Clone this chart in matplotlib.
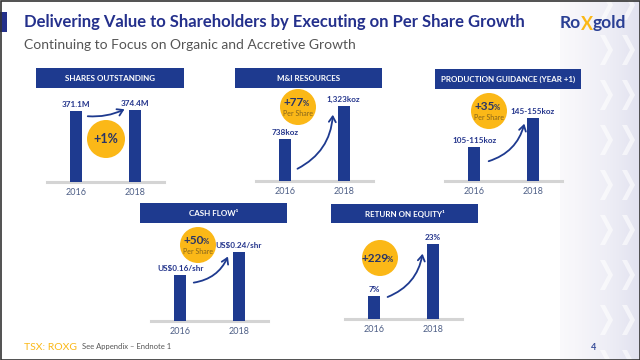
import matplotlib.pyplot as plt
import numpy as np
from matplotlib.patches import Circle, Rectangle, FancyArrowPatch, Polygon

plt.rcParams['font.family'] = ['Lato', 'DejaVu Sans']

NAVY = '#1e3a8f'
GOLD = '#fbb817'
YEAR_C = '#4e5f86'

# data
years = ['2016', '2018']
titles = ['SHARES OUTSTANDING', 'M&I RESOURCES', 'PRODUCTION GUIDANCE (YEAR +1)',
          'CASH FLOW\u00b9', 'RETURN ON EQUITY\u00b9']
shares = [371.1, 374.4]
resources = [738, 1323]
production = [110, 150]          # midpoints of 105-115 / 145-155 koz
cash_flow = [0.16, 0.24]
roe = [7, 23]
value_labels = [['371.1M', '374.4M'],
                ['738koz', '1,323koz'],
                ['105-115koz', '145-155koz'],
                ['US$0.16/shr', 'US$0.24/shr'],
                ['7%', '23%']]
growth = ['+1', '+77', '+35', '+50', '+229']
per_share = [False, True, True, True, False]

# panel layout in pixels
panels = [
    dict(vals=shares, head=(36, 184, 68, 88), base=(47, 164, 182), ylim=(0, 468),
         circ=(106, 139, 19), arrow=((85, 116), (127, 108), 0.15)),
    dict(vals=resources, head=(235, 382, 68, 88), base=(256, 373, 181), ylim=(0, 1588),
         circ=(298, 107, 18), arrow=((295, 170), (333, 112), 0.3)),
    dict(vals=production, head=(435, 581, 69, 89), base=(445, 562, 181), ylim=(63, 187),
         circ=(489, 111, 18), arrow=((486, 162), (525, 121), 0.3)),
    dict(vals=cash_flow, head=(140, 287, 203, 223), base=(151, 268, 321), ylim=(0, 0.313),
         circ=(198, 245, 18), arrow=((191, 283), (229, 254), 0.3)),
    dict(vals=roe, head=(331, 478, 204, 223), base=(345, 462, 319), ylim=(0, 27.6),
         circ=(380, 258, 18), arrow=((385, 298), (423, 251), 0.3)),
]

fig = plt.figure(figsize=(6.4, 3.6), dpi=100)
bg = fig.add_axes([0, 0, 1, 1])
bg.set_xlim(0, 640)
bg.set_ylim(360, 0)
bg.axis('off')

# right-hand decorative gradient with chevrons
grad = np.linspace(0, 1, 100).reshape(1, -1)
bg.imshow(grad, extent=(560, 640, 360, 0), cmap='Purples', vmin=-0.3, vmax=3.5,
          aspect='auto', alpha=0.5, zorder=0)
for yy in range(-10, 360, 45):
    for xx in (600, 622):
        bg.add_patch(Polygon([(xx, yy), (xx + 5, yy), (xx + 13, yy + 15), (xx + 5, yy + 30), (xx, yy + 30), (xx + 8, yy + 15)],
                             closed=True, fc='white', ec='none', alpha=0.6, zorder=0.5))

# frame and title block
bg.add_patch(Rectangle((0.5, 0.5), 639, 359, fill=False, ec='#333333', lw=1.2, zorder=10))
bg.add_patch(Rectangle((0, 12), 7, 20, fc='#23308a', ec='none'))
bg.text(24, 22, 'Delivering Value to Shareholders by Executing on Per Share Growth',
        fontsize=12, fontweight='bold', color='#24308c', va='center')
bg.text(24, 45, 'Continuing to Focus on Organic and Accretive Growth',
        fontsize=10, color='#555555', va='center')
bg.text(560, 23, 'Ro', fontsize=12.5, fontweight='bold', color='#2a3f94', va='center')
bg.text(580.5, 25, 'X', fontsize=13, fontweight='bold', color=GOLD, va='center')
bg.text(592.5, 23, 'gold', fontsize=12.5, fontweight='bold', color='#2a3f94', va='center')

# footer
bg.text(24, 347, 'TSX: ROXG', fontsize=7.5, color=GOLD, va='center')
bg.text(82, 347, 'See Appendix \u2013 Endnote 1', fontsize=5.5, color='#555555', va='center')
bg.text(594, 347, '4', fontsize=6.5, fontweight='bold', color='#3a4f9a', va='center', ha='center')

for i, p in enumerate(panels):
    hx0, hx1, hy0, hy1 = p['head']
    bg.add_patch(Rectangle((hx0, hy0), hx1 - hx0, hy1 - hy0, fc=NAVY, ec='none'))
    bg.text((hx0 + hx1) / 2, (hy0 + hy1) / 2 + 0.5, titles[i], color='white',
            fontsize=5.8, fontweight='bold', ha='center', va='center')

    bx0, bx1, by = p['base']
    ax = fig.add_axes([bx0 / 640, (360 - by) / 360, (bx1 - bx0) / 640, 90 / 360])
    ax.patch.set_alpha(0)
    ax.bar([0, 1], p['vals'], width=0.2, color=NAVY, zorder=3)
    ax.set_xlim(-0.5, 1.5)
    ax.set_ylim(*p['ylim'])
    for s in ('top', 'right', 'left'):
        ax.spines[s].set_visible(False)
    ax.spines['bottom'].set_color('#d4d4d4')
    ax.spines['bottom'].set_linewidth(2.2)
    ax.set_yticks([])
    ax.set_xticks([0, 1])
    ax.set_xticklabels(years, fontsize=6.5, color=YEAR_C)
    ax.tick_params(axis='x', length=0, pad=4)
    for j, v in enumerate(p['vals']):
        ax.annotate(value_labels[i][j], (j, v), xytext=(0, 2), textcoords='offset points',
                    ha='center', va='bottom', fontsize=5.9, fontweight='bold', color='#24358c')

    cx, cy, r = p['circ']
    bg.add_patch(Circle((cx, cy), r, fc=GOLD, ec='none', zorder=2))
    if i == 0:
        bg.text(cx, cy, growth[i] + '%', fontsize=9, fontweight='bold', color='#2a3566',
                ha='center', va='center', zorder=3)
        continue
    dy = -4 if per_share[i] else 0
    split = cx + (5.6 * len(growth[i]) - 5) / 2
    bg.text(split, cy + dy, growth[i], fontsize=8.5, fontweight='bold', color='#2a3566',
            ha='right', va='center', zorder=3)
    bg.text(split - 1.5, cy + dy + 1, '%', fontsize=5.5, fontweight='bold',
            color='#2a3566', ha='left', va='center', zorder=3)
    if per_share[i]:
        bg.text(cx, cy + 7, 'Per Share', fontsize=5, color='#85641d', ha='center', va='center', zorder=3)

for p in panels:
    (ax0, ay0), (ax1, ay1), rad = p['arrow']
    bg.add_patch(FancyArrowPatch((ax0, ay0), (ax1, ay1), connectionstyle=f'arc3,rad={rad}',
                                 arrowstyle='->,head_length=4,head_width=2.5', color=NAVY,
                                 lw=1.3, zorder=4))

fig.savefig('out.png', dpi=100)
